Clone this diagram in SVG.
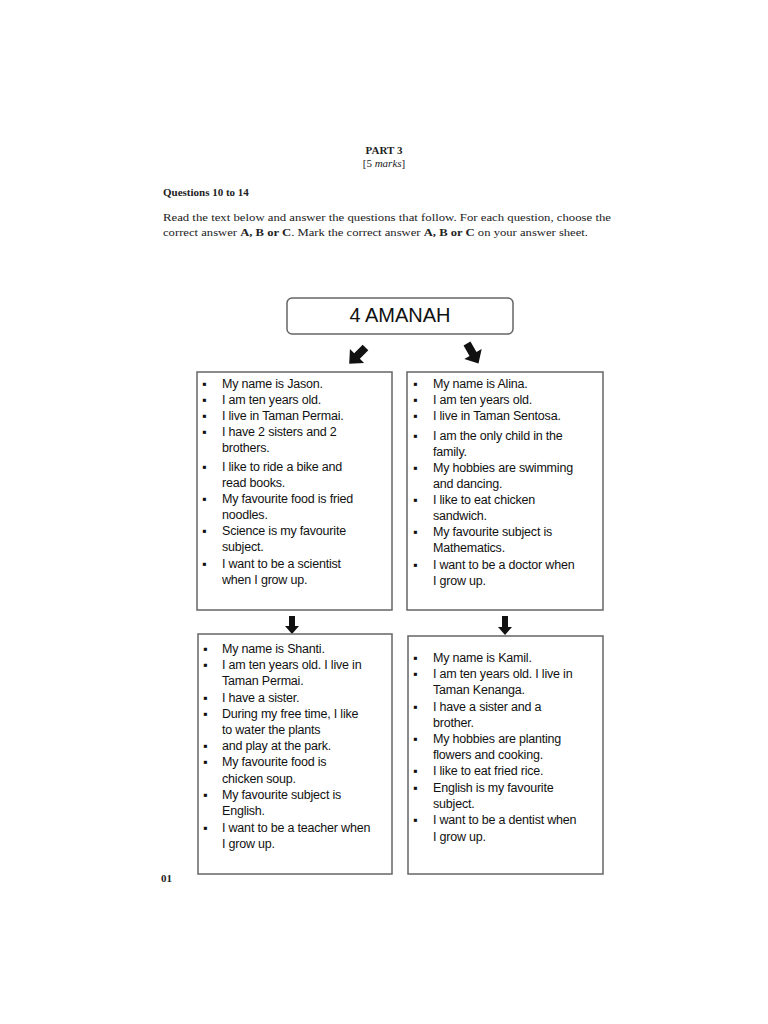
<svg xmlns="http://www.w3.org/2000/svg" width="768" height="1024" viewBox="0 0 768 1024">
<style>
.s{font-family:"Times New Roman","Liberation Serif",serif;font-size:11px;fill:#222}
.b{font-family:"Liberation Sans",Arial,sans-serif;font-size:12.5px;fill:#111;letter-spacing:-0.2px}
.box{fill:#fff;stroke:#666;stroke-width:1.5}
</style>
<defs><polygon id="arr" points="-4,-12 4,-12 4,0 10,0 0,11 -10,0 -4,0"/></defs>
<rect width="768" height="1024" fill="#fff"/>
<text class="s" x="384" y="154" text-anchor="middle" font-weight="bold">PART 3</text>
<text class="s" x="384" y="167" text-anchor="middle">[5 <tspan font-style="italic">marks</tspan>]</text>
<text class="s" x="163" y="196" font-weight="bold">Questions 10 to 14</text>
<text class="s" x="163" y="221" textLength="448" lengthAdjust="spacingAndGlyphs">Read the text below and answer the questions that follow. For each question, choose the</text>
<text class="s" x="163" y="236" textLength="425" lengthAdjust="spacingAndGlyphs">correct answer <tspan font-weight="bold">A, B or C</tspan>. Mark the correct answer <tspan font-weight="bold">A, B or C</tspan> on your answer sheet.</text>
<text class="s" x="161" y="882" font-weight="bold">01</text>
<g id="title"><rect x="287" y="298" width="226" height="36" rx="5" class="box"/>
<text x="400" y="322" text-anchor="middle" font-family="Liberation Sans,Arial,sans-serif" font-size="20" fill="#111">4 AMANAH</text></g>
<g id="connectors" fill="#111">
<use href="#arr" transform="translate(357,356) rotate(45)"/>
<use href="#arr" transform="translate(473,354) rotate(-30)"/>
<polygon points="289,616 295,616 295,626 299,626 292,634 285,626 289,626"/>
<polygon points="502,616 508,616 508,627 512,627 505,635 498,627 502,627"/>
</g>
<g id="jason"><rect x="197" y="372" width="195" height="238" class="box"/>
<g class="b">
<text x="202" y="388">▪</text><text x="222" y="388">My name is Jason.</text>
<text x="202" y="404">▪</text><text x="222" y="404">I am ten years old.</text>
<text x="202" y="420">▪</text><text x="222" y="420">I live in Taman Permai.</text>
<text x="202" y="436">▪</text><text x="222" y="436">I have 2 sisters and 2</text>
<text x="222" y="452">brothers.</text>
<text x="202" y="471">▪</text><text x="222" y="471">I like to ride a bike and</text>
<text x="222" y="487">read books.</text>
<text x="202" y="503">▪</text><text x="222" y="503">My favourite food is fried</text>
<text x="222" y="519">noodles.</text>
<text x="202" y="535">▪</text><text x="222" y="535">Science is my favourite</text>
<text x="222" y="551">subject.</text>
<text x="202" y="568">▪</text><text x="222" y="568">I want to be a scientist</text>
<text x="222" y="584">when I grow up.</text></g></g>
<g id="alina"><rect x="407" y="372" width="196" height="238" class="box"/>
<g class="b">
<text x="413" y="388">▪</text><text x="433" y="388">My name is Alina.</text>
<text x="413" y="404">▪</text><text x="433" y="404">I am ten years old.</text>
<text x="413" y="420">▪</text><text x="433" y="420">I live in Taman Sentosa.</text>
<text x="413" y="440">▪</text><text x="433" y="440">I am the only child in the</text>
<text x="433" y="456">family.</text>
<text x="413" y="472">▪</text><text x="433" y="472">My hobbies are swimming</text>
<text x="433" y="488">and dancing.</text>
<text x="413" y="504">▪</text><text x="433" y="504">I like to eat chicken</text>
<text x="433" y="520">sandwich.</text>
<text x="413" y="536">▪</text><text x="433" y="536">My favourite subject is</text>
<text x="433" y="552">Mathematics.</text>
<text x="413" y="569">▪</text><text x="433" y="569">I want to be a doctor when</text>
<text x="433" y="585">I grow up.</text></g></g>
<g id="shanti"><rect x="198" y="634" width="194" height="240" class="box"/>
<g class="b">
<text x="203" y="653">▪</text><text x="222" y="653">My name is Shanti.</text>
<text x="203" y="669">▪</text><text x="222" y="669">I am ten years old. I live in</text>
<text x="222" y="685">Taman Permai.</text>
<text x="203" y="702">▪</text><text x="222" y="702">I have a sister.</text>
<text x="203" y="718">▪</text><text x="222" y="718">During my free time, I like</text>
<text x="222" y="734">to water the plants</text>
<text x="203" y="750">▪</text><text x="222" y="750">and play at the park.</text>
<text x="203" y="766">▪</text><text x="222" y="766">My favourite food is</text>
<text x="222" y="783">chicken soup.</text>
<text x="203" y="799">▪</text><text x="222" y="799">My favourite subject is</text>
<text x="222" y="815">English.</text>
<text x="203" y="832">▪</text><text x="222" y="832">I want to be a teacher when</text>
<text x="222" y="848">I grow up.</text></g></g>
<g id="kamil"><rect x="408" y="636" width="195" height="238" class="box"/>
<g class="b">
<text x="413" y="662">▪</text><text x="433" y="662">My name is Kamil.</text>
<text x="413" y="678">▪</text><text x="433" y="678">I am ten years old. I live in</text>
<text x="433" y="694">Taman Kenanga.</text>
<text x="413" y="711">▪</text><text x="433" y="711">I have a sister and a</text>
<text x="433" y="727">brother.</text>
<text x="413" y="743">▪</text><text x="433" y="743">My hobbies are planting</text>
<text x="433" y="759">flowers and cooking.</text>
<text x="413" y="775">▪</text><text x="433" y="775">I like to eat fried rice.</text>
<text x="413" y="792">▪</text><text x="433" y="792">English is my favourite</text>
<text x="433" y="808">subject.</text>
<text x="413" y="824">▪</text><text x="433" y="824">I want to be a dentist when</text>
<text x="433" y="841">I grow up.</text></g></g>
</svg>
